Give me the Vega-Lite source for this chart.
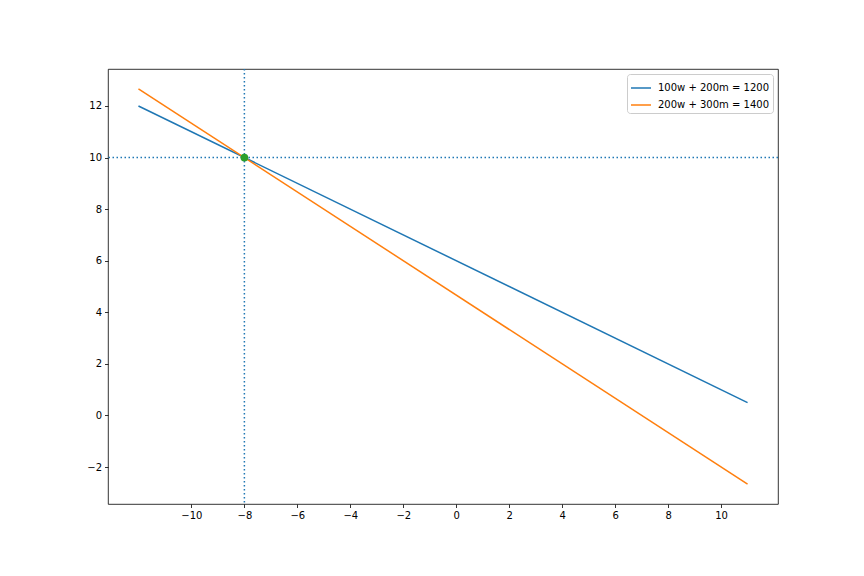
{
  "$schema": "https://vega.github.io/schema/vega-lite/v6.json",
  "width": 670,
  "height": 435,
  "autosize": {"type": "none"},
  "padding": {"left": 108, "top": 69, "right": 86, "bottom": 72},
  "background": "white",
  "config": {
    "font": "DejaVu Sans",
    "view": {"stroke": "black", "strokeWidth": 0.8},
    "axis": {
      "grid": false,
      "domain": false,
      "tickColor": "black",
      "tickSize": 3.5,
      "tickWidth": 0.8,
      "labelFontSize": 10,
      "labelColor": "black",
      "labelPadding": 3,
      "title": null
    }
  },
  "datasets": {
    "lines": [
      {"w": -12, "m": 12, "eq": "100w + 200m = 1200"},
      {"w": 11, "m": 0.5, "eq": "100w + 200m = 1200"},
      {"w": -12, "m": 12.667, "eq": "200w + 300m = 1400"},
      {"w": 11, "m": -2.667, "eq": "200w + 300m = 1400"}
    ],
    "cross": [{"w": -8, "m": 10}]
  },
  "layer": [
    {
      "data": {"name": "cross"},
      "mark": {"type": "rule", "color": "#1f77b4", "strokeDash": [1.5, 2.5], "strokeWidth": 1.5},
      "encoding": {"x": {"field": "w", "type": "quantitative"}}
    },
    {
      "data": {"name": "cross"},
      "mark": {"type": "rule", "color": "#1f77b4", "strokeDash": [1.5, 2.5], "strokeWidth": 1.5},
      "encoding": {"y": {"field": "m", "type": "quantitative"}}
    },
    {
      "data": {"name": "lines"},
      "mark": {"type": "line", "strokeWidth": 1.5},
      "encoding": {
        "x": {
          "field": "w", "type": "quantitative",
          "scale": {"domain": [-13.15, 12.15], "nice": false, "zero": false},
          "axis": {"values": [-10, -8, -6, -4, -2, 0, 2, 4, 6, 8, 10], "labelExpr": "replace(datum.label, '-', '\u2212')"}
        },
        "y": {
          "field": "m", "type": "quantitative",
          "scale": {"domain": [-3.433, 13.433], "nice": false, "zero": false},
          "axis": {"values": [-2, 0, 2, 4, 6, 8, 10, 12], "labelExpr": "replace(datum.label, '-', '\u2212')"}
        },
        "color": {
          "field": "eq", "type": "nominal",
          "scale": {"range": ["#1f77b4", "#ff7f0e"]},
          "legend": {
            "title": null,
            "orient": "top-right",
            "offset": 5,
            "symbolType": "stroke",
            "symbolSize": 400,
            "symbolStrokeWidth": 1.5,
            "labelFontSize": 10,
            "labelColor": "black",
            "strokeColor": "#cccccc",
            "fillColor": "white",
            "padding": 3,
            "cornerRadius": 3,
            "rowPadding": 1,
            "labelOffset": 6
          }
        }
      }
    },
    {
      "data": {"name": "cross"},
      "mark": {"type": "point", "shape": "circle", "filled": true, "color": "#2ca02c", "size": 60, "opacity": 1},
      "encoding": {
        "x": {"field": "w", "type": "quantitative"},
        "y": {"field": "m", "type": "quantitative"}
      }
    }
  ]
}
